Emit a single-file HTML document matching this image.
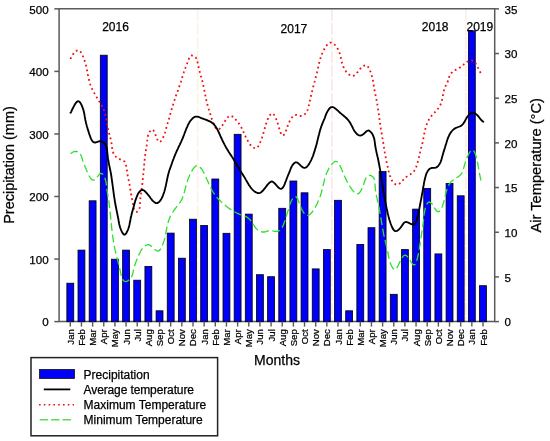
<!DOCTYPE html>
<html><head><meta charset="utf-8"><title>Precipitation and Air Temperature</title>
<style>html,body{margin:0;padding:0;background:#fff}svg{display:block}text{font-family:"Liberation Sans",Arial,sans-serif;fill:#000;stroke:#000;stroke-width:0.25px}</style></head><body>
<svg width="550" height="441" viewBox="0 0 550 441">
<rect width="550" height="441" fill="#fff"/>
<line x1="197.8" y1="8.85" x2="197.8" y2="321.6" stroke="#fae8cf" stroke-width="0.9" stroke-dasharray="12 2"/>
<line x1="331.9" y1="8.85" x2="331.9" y2="321.6" stroke="#f6d4d8" stroke-width="0.9" stroke-dasharray="12 2"/>
<line x1="465.9" y1="8.85" x2="465.9" y2="321.6" stroke="#f9dcdc" stroke-width="0.9" stroke-dasharray="12 2"/>
<path d="M59.1,8.85H494.7V321.6H59.1Z" fill="none" stroke="#5a5a5a" stroke-width="1.5"/>
<rect x="66.85" y="283.2" width="6.9" height="38.5" fill="#0000f8" stroke="#000" stroke-width="0.8"/>
<rect x="78.00" y="250.1" width="6.9" height="71.6" fill="#0000f8" stroke="#000" stroke-width="0.8"/>
<rect x="89.16" y="200.8" width="6.9" height="120.9" fill="#0000f8" stroke="#000" stroke-width="0.8"/>
<rect x="100.31" y="55.2" width="6.9" height="266.5" fill="#0000f8" stroke="#000" stroke-width="0.8"/>
<rect x="111.47" y="259.2" width="6.9" height="62.5" fill="#0000f8" stroke="#000" stroke-width="0.8"/>
<rect x="122.62" y="250.1" width="6.9" height="71.6" fill="#0000f8" stroke="#000" stroke-width="0.8"/>
<rect x="133.77" y="280.2" width="6.9" height="41.5" fill="#0000f8" stroke="#000" stroke-width="0.8"/>
<rect x="144.93" y="266.4" width="6.9" height="55.3" fill="#0000f8" stroke="#000" stroke-width="0.8"/>
<rect x="156.08" y="310.8" width="6.9" height="10.9" fill="#0000f8" stroke="#000" stroke-width="0.8"/>
<rect x="167.24" y="233.1" width="6.9" height="88.6" fill="#0000f8" stroke="#000" stroke-width="0.8"/>
<rect x="178.39" y="258.2" width="6.9" height="63.5" fill="#0000f8" stroke="#000" stroke-width="0.8"/>
<rect x="189.54" y="219.2" width="6.9" height="102.5" fill="#0000f8" stroke="#000" stroke-width="0.8"/>
<rect x="200.70" y="225.5" width="6.9" height="96.2" fill="#0000f8" stroke="#000" stroke-width="0.8"/>
<rect x="211.85" y="179.0" width="6.9" height="142.7" fill="#0000f8" stroke="#000" stroke-width="0.8"/>
<rect x="223.01" y="233.3" width="6.9" height="88.4" fill="#0000f8" stroke="#000" stroke-width="0.8"/>
<rect x="234.16" y="134.3" width="6.9" height="187.4" fill="#0000f8" stroke="#000" stroke-width="0.8"/>
<rect x="245.31" y="214.1" width="6.9" height="107.6" fill="#0000f8" stroke="#000" stroke-width="0.8"/>
<rect x="256.47" y="274.7" width="6.9" height="47.0" fill="#0000f8" stroke="#000" stroke-width="0.8"/>
<rect x="267.62" y="276.7" width="6.9" height="45.0" fill="#0000f8" stroke="#000" stroke-width="0.8"/>
<rect x="278.78" y="208.3" width="6.9" height="113.4" fill="#0000f8" stroke="#000" stroke-width="0.8"/>
<rect x="289.93" y="181.0" width="6.9" height="140.7" fill="#0000f8" stroke="#000" stroke-width="0.8"/>
<rect x="301.08" y="192.8" width="6.9" height="128.9" fill="#0000f8" stroke="#000" stroke-width="0.8"/>
<rect x="312.24" y="268.9" width="6.9" height="52.8" fill="#0000f8" stroke="#000" stroke-width="0.8"/>
<rect x="323.39" y="249.6" width="6.9" height="72.1" fill="#0000f8" stroke="#000" stroke-width="0.8"/>
<rect x="334.55" y="200.3" width="6.9" height="121.4" fill="#0000f8" stroke="#000" stroke-width="0.8"/>
<rect x="345.70" y="310.8" width="6.9" height="10.9" fill="#0000f8" stroke="#000" stroke-width="0.8"/>
<rect x="356.85" y="244.4" width="6.9" height="77.3" fill="#0000f8" stroke="#000" stroke-width="0.8"/>
<rect x="368.01" y="227.7" width="6.9" height="94.0" fill="#0000f8" stroke="#000" stroke-width="0.8"/>
<rect x="379.16" y="171.5" width="6.9" height="150.2" fill="#0000f8" stroke="#000" stroke-width="0.8"/>
<rect x="390.32" y="294.3" width="6.9" height="27.4" fill="#0000f8" stroke="#000" stroke-width="0.8"/>
<rect x="401.47" y="249.6" width="6.9" height="72.1" fill="#0000f8" stroke="#000" stroke-width="0.8"/>
<rect x="412.62" y="209.1" width="6.9" height="112.6" fill="#0000f8" stroke="#000" stroke-width="0.8"/>
<rect x="423.78" y="188.5" width="6.9" height="133.2" fill="#0000f8" stroke="#000" stroke-width="0.8"/>
<rect x="434.93" y="253.9" width="6.9" height="67.8" fill="#0000f8" stroke="#000" stroke-width="0.8"/>
<rect x="446.09" y="183.5" width="6.9" height="138.2" fill="#0000f8" stroke="#000" stroke-width="0.8"/>
<rect x="457.24" y="195.8" width="6.9" height="125.9" fill="#0000f8" stroke="#000" stroke-width="0.8"/>
<rect x="468.39" y="30.8" width="6.9" height="290.9" fill="#0000f8" stroke="#000" stroke-width="0.8"/>
<rect x="479.55" y="285.7" width="6.9" height="36.0" fill="#0000f8" stroke="#000" stroke-width="0.8"/>
<path d="M70.6,153.8L71.7,152.9L73.0,152.0L74.5,151.5L75.9,151.3L77.4,151.6L78.7,152.4L79.8,153.5L80.7,154.8L81.4,156.2L81.9,157.6L82.3,159.0L82.7,160.4L83.2,161.9L83.7,163.3L84.2,164.7L84.8,166.1L85.4,167.5L86.0,168.8L86.5,170.2L87.1,171.5L87.6,172.8L88.2,174.2L88.9,175.6L89.8,177.0L90.8,178.5L91.9,179.6L93.1,180.1L94.4,179.8L95.6,178.9L96.7,177.6L97.9,176.1L99.0,174.7L100.1,173.7L101.2,173.4L102.3,173.9L103.3,175.1L104.2,176.6L104.9,178.1L105.4,179.6L105.8,181.1L106.1,182.6L106.3,184.0L106.4,185.4L106.6,186.9L106.7,188.3L106.9,189.8L107.2,191.3L107.4,192.8L107.7,194.2L107.9,195.7L108.2,197.2L108.4,198.7L108.6,200.2L108.9,201.7L109.1,203.2L109.3,204.7L109.4,206.2L109.6,207.7L109.8,209.1L109.9,210.6L110.1,212.1L110.3,213.6L110.4,215.1L110.6,216.6L110.7,218.0L110.8,219.5L111.0,221.0L111.2,222.5L111.3,224.1L111.5,225.6L111.6,227.1L111.8,228.6L112.0,230.2L112.1,231.7L112.3,233.2L112.5,234.7L112.7,236.3L112.9,237.8L113.2,239.3L113.4,240.8L113.6,242.3L113.9,243.7L114.1,245.2L114.4,246.6L114.7,248.0L114.9,249.4L115.3,250.8L115.6,252.1L115.9,253.5L116.2,254.8L116.6,256.1L116.9,257.4L117.3,258.8L117.7,260.1L118.0,261.5L118.4,263.0L118.8,264.4L119.2,266.0L119.6,267.6L119.9,269.3L120.3,271.1L120.7,272.9L121.1,274.8L121.6,276.6L122.1,278.3L122.8,279.7L123.6,280.8L124.6,281.4L125.8,281.6L127.1,281.2L128.5,280.4L129.8,279.4L130.8,278.2L131.6,276.9L132.2,275.6L132.6,274.1L133.0,272.6L133.3,271.1L133.6,269.6L134.0,268.1L134.4,266.7L134.8,265.2L135.3,263.8L135.8,262.4L136.3,261.0L136.9,259.6L137.5,258.2L138.0,256.8L138.6,255.5L139.2,254.1L139.9,252.8L140.5,251.5L141.3,250.2L142.1,248.9L143.1,247.7L144.2,246.6L145.5,245.6L146.9,244.8L148.2,244.6L149.5,244.9L150.7,245.8L151.9,246.9L153.2,248.1L154.5,249.3L155.8,250.3L157.1,250.9L158.3,251.0L159.4,250.4L160.4,249.3L161.3,247.8L162.1,246.2L162.7,244.6L163.3,243.1L163.8,241.6L164.3,240.1L164.7,238.7L165.0,237.3L165.3,235.9L165.6,234.5L165.8,233.1L166.1,231.7L166.4,230.3L166.6,228.8L166.9,227.4L167.3,225.9L167.6,224.4L168.0,222.9L168.4,221.5L168.9,220.0L169.4,218.6L170.0,217.2L170.6,215.9L171.3,214.5L172.1,213.2L172.9,212.0L173.7,210.7L174.6,209.5L175.5,208.3L176.4,207.1L177.4,205.9L178.3,204.7L179.2,203.5L180.1,202.3L180.9,201.1L181.6,199.8L182.3,198.4L182.8,197.1L183.3,195.7L183.8,194.2L184.2,192.8L184.6,191.3L184.9,189.8L185.3,188.4L185.7,186.9L186.1,185.4L186.5,183.9L187.0,182.5L187.4,181.0L187.9,179.6L188.4,178.2L189.0,176.9L189.5,175.5L190.1,174.2L190.7,172.9L191.4,171.6L192.2,170.3L193.1,169.0L194.1,167.7L195.2,166.5L196.5,165.7L197.8,165.7L199.1,166.4L200.3,167.5L201.4,168.7L202.3,170.0L203.1,171.3L203.7,172.5L204.4,173.9L205.0,175.2L205.6,176.6L206.2,177.9L206.8,179.3L207.5,180.7L208.1,182.1L208.7,183.5L209.3,184.8L209.9,186.2L210.6,187.5L211.3,188.9L212.0,190.2L212.7,191.5L213.5,192.8L214.4,194.0L215.2,195.2L216.2,196.4L217.1,197.6L218.1,198.7L219.1,199.8L220.2,200.8L221.3,201.9L222.4,202.9L223.5,203.9L224.7,204.9L225.8,205.8L227.0,206.8L228.2,207.7L229.4,208.6L230.6,209.4L231.9,210.3L233.1,211.1L234.4,211.8L235.7,212.5L237.1,213.2L238.5,213.8L239.9,214.4L241.3,214.9L242.7,215.3L244.1,215.8L245.5,216.4L246.9,217.1L248.1,217.9L249.2,218.9L250.3,220.0L251.3,221.2L252.1,222.4L252.9,223.7L253.7,225.0L254.5,226.2L255.3,227.5L256.3,228.6L257.4,229.7L258.6,230.6L259.9,231.3L261.4,231.8L262.9,232.0L264.4,232.0L265.9,231.6L267.4,231.1L268.8,230.6L270.2,230.4L271.7,230.6L273.1,231.0L274.6,231.4L276.1,231.5L277.6,231.3L279.0,230.8L280.2,229.9L281.2,228.8L282.1,227.5L282.8,226.1L283.5,224.7L284.0,223.3L284.5,221.9L285.0,220.5L285.4,219.1L285.9,217.6L286.3,216.2L286.8,214.7L287.2,213.3L287.7,211.8L288.1,210.4L288.5,209.0L288.9,207.6L289.3,206.2L289.7,204.8L290.2,203.4L290.8,202.0L291.5,200.5L292.4,199.0L293.3,197.7L294.3,196.8L295.3,196.5L296.1,196.8L296.9,197.7L297.6,198.9L298.3,200.6L299.0,202.4L299.8,204.4L300.5,206.4L301.3,208.3L302.1,210.0L303.0,211.6L303.9,213.0L304.9,214.1L305.9,214.9L306.9,215.3L307.9,215.4L309.0,215.0L310.1,214.3L311.1,213.2L312.2,212.0L313.2,210.6L314.2,209.1L315.1,207.5L316.0,205.9L316.8,204.4L317.5,202.8L318.2,201.4L318.8,199.9L319.4,198.5L319.9,197.0L320.4,195.7L320.8,194.3L321.3,192.9L321.6,191.5L322.0,190.2L322.4,188.8L322.7,187.5L323.0,186.2L323.3,184.8L323.6,183.4L324.0,182.1L324.3,180.7L324.6,179.3L325.0,177.9L325.5,176.5L325.9,175.1L326.4,173.7L327.0,172.3L327.7,170.9L328.4,169.5L329.2,168.0L330.1,166.6L331.1,165.2L332.2,163.8L333.3,162.6L334.4,161.7L335.5,161.3L336.6,161.5L337.6,162.1L338.5,163.2L339.4,164.6L340.3,166.2L341.1,167.9L341.8,169.7L342.5,171.3L343.1,172.9L343.7,174.3L344.3,175.7L344.9,177.0L345.5,178.3L346.1,179.6L346.7,180.8L347.3,182.0L348.0,183.3L348.8,184.5L349.5,185.8L350.4,187.2L351.4,188.6L352.4,190.1L353.4,191.4L354.5,192.6L355.6,193.5L356.7,194.0L357.8,193.9L358.8,193.4L359.7,192.5L360.6,191.2L361.5,189.7L362.3,188.0L363.0,186.1L363.7,184.2L364.3,182.3L364.9,180.5L365.6,178.8L366.3,177.4L367.2,176.3L368.1,175.6L369.3,175.3L370.7,175.5L372.1,176.2L373.2,177.2L374.0,178.4L374.5,179.7L374.8,181.3L375.0,182.9L375.0,184.5L375.1,186.1L375.2,187.7L375.4,189.3L375.6,190.8L375.8,192.3L376.1,193.8L376.3,195.3L376.6,196.7L377.0,198.1L377.3,199.6L377.6,201.0L377.9,202.4L378.3,203.8L378.6,205.3L378.9,206.7L379.2,208.2L379.4,209.7L379.7,211.2L380.0,212.6L380.2,214.1L380.5,215.6L380.7,217.1L381.0,218.6L381.2,220.1L381.4,221.6L381.7,223.0L381.9,224.5L382.2,226.0L382.4,227.5L382.7,228.9L383.0,230.4L383.3,231.9L383.5,233.4L383.8,234.8L384.2,236.3L384.5,237.8L384.8,239.3L385.2,240.7L385.5,242.2L385.9,243.7L386.2,245.2L386.5,246.6L386.9,248.1L387.2,249.6L387.6,251.0L387.9,252.5L388.2,253.9L388.4,255.3L388.7,256.7L389.0,258.2L389.3,259.6L389.6,261.0L390.1,262.4L390.6,263.9L391.2,265.3L392.0,266.8L392.9,268.3L393.9,269.3L394.8,269.6L395.8,269.2L396.7,268.1L397.6,266.6L398.5,264.8L399.4,262.9L400.3,261.0L401.3,259.2L402.2,257.6L403.1,256.3L404.1,255.5L405.0,255.1L405.9,255.3L406.9,256.0L407.8,257.1L408.8,258.6L409.8,260.1L410.8,261.7L411.8,263.2L412.8,264.3L413.8,264.9L414.6,264.8L415.4,264.1L416.0,262.8L416.6,261.2L417.1,259.4L417.6,257.4L418.0,255.5L418.4,253.6L418.7,251.9L419.0,250.2L419.3,248.7L419.5,247.2L419.8,245.8L420.0,244.4L420.2,243.1L420.4,241.7L420.6,240.4L420.8,239.1L421.0,237.7L421.2,236.3L421.4,234.9L421.6,233.4L421.9,231.9L422.1,230.4L422.3,228.9L422.6,227.4L422.8,225.8L423.0,224.3L423.2,222.8L423.4,221.3L423.5,219.9L423.6,218.5L423.8,217.1L423.9,215.7L424.1,214.3L424.3,212.9L424.6,211.4L424.9,209.9L425.3,208.3L425.9,206.7L426.5,205.0L427.3,203.4L428.3,202.3L429.5,202.0L430.7,202.7L432.0,203.8L432.9,205.1L433.6,206.3L434.3,207.6L435.1,208.9L436.1,210.3L437.3,211.4L438.5,211.8L439.6,211.2L440.6,209.9L441.4,208.2L442.1,206.7L442.7,205.2L443.2,203.8L443.6,202.4L444.0,201.0L444.3,199.7L444.7,198.3L445.0,196.9L445.3,195.4L445.7,193.9L446.0,192.5L446.4,191.0L446.9,189.5L447.4,188.1L448.0,186.7L448.6,185.3L449.4,184.1L450.2,182.9L451.2,181.7L452.3,180.7L453.5,179.7L454.8,178.9L456.1,178.1L457.4,177.3L458.6,176.4L459.8,175.5L460.8,174.5L461.7,173.3L462.4,171.9L462.9,170.5L463.4,169.1L463.8,167.6L464.2,166.2L464.6,164.8L465.0,163.4L465.4,162.0L465.9,160.6L466.4,159.2L467.0,157.6L467.8,156.0L468.6,154.3L469.4,152.8L470.3,151.5L471.2,150.6L472.0,150.1L472.8,150.1L473.6,150.7L474.3,151.7L474.9,153.1L475.6,154.8L476.2,156.8L476.7,159.0L477.3,161.4L477.8,163.9L478.2,166.4L478.7,168.9L479.1,171.3L479.5,173.6L480.0,175.8L480.3,177.6L480.7,179.2L481.1,180.5L481.5,181.3L481.9,181.6L482.3,181.4L482.6,180.7L482.8,180.2" fill="none" stroke="#2ee02e" stroke-width="1.3" stroke-dasharray="8 3.5"/>
<path d="M70.5,59.0L70.8,58.2L71.4,56.9L72.2,55.5L73.3,53.9L74.4,52.5L75.7,51.3L76.9,50.5L78.1,50.2L79.3,50.6L80.3,51.5L81.2,52.8L82.1,54.4L82.9,56.1L83.6,57.8L84.2,59.4L84.7,61.0L85.2,62.6L85.7,64.2L86.1,65.7L86.4,67.2L86.7,68.7L87.0,70.1L87.3,71.6L87.6,73.0L87.8,74.4L88.1,75.8L88.4,77.1L88.7,78.5L89.0,79.8L89.3,81.2L89.7,82.5L90.1,83.8L90.5,85.1L91.1,86.5L91.6,87.8L92.2,89.1L92.9,90.4L93.6,91.8L94.3,93.1L95.1,94.4L95.9,95.7L96.6,97.1L97.4,98.4L98.2,99.7L99.0,101.0L99.8,102.3L100.6,103.6L101.4,104.9L102.1,106.2L102.8,107.6L103.4,108.9L104.0,110.3L104.5,111.7L104.9,113.1L105.3,114.5L105.6,116.0L105.9,117.5L106.2,118.9L106.5,120.4L106.7,121.9L107.0,123.4L107.2,124.9L107.5,126.4L107.7,127.9L108.1,129.3L108.4,130.8L108.8,132.2L109.2,133.7L109.6,135.1L110.0,136.5L110.4,138.0L110.8,139.4L111.1,140.9L111.4,142.4L111.6,144.0L111.8,145.5L112.0,147.1L112.2,148.6L112.5,150.1L112.9,151.6L113.3,153.0L113.9,154.3L114.7,155.5L115.7,156.6L116.8,157.6L118.1,158.5L119.5,159.1L120.9,159.7L122.4,160.2L123.7,160.9L124.7,161.9L125.4,163.2L125.9,164.7L126.3,166.3L126.5,167.8L126.8,169.3L127.0,170.8L127.2,172.2L127.4,173.7L127.6,175.1L127.9,176.6L128.2,178.1L128.5,179.5L128.9,181.0L129.2,182.5L129.5,183.9L129.7,185.4L130.0,186.9L130.2,188.4L130.4,189.9L130.6,191.4L130.8,192.9L131.1,194.3L131.4,195.8L131.7,197.3L132.0,198.8L132.3,200.2L132.6,201.7L132.9,203.2L133.1,204.6L133.2,206.1L133.5,207.6L133.9,209.0L134.7,210.4L135.7,211.7L137.0,211.9L138.2,210.9L139.1,209.5L139.6,208.0L139.9,206.6L140.0,205.1L140.0,203.6L140.0,202.1L140.1,200.6L140.3,199.1L140.4,197.6L140.6,196.1L140.9,194.6L141.1,193.1L141.3,191.6L141.5,190.2L141.7,188.7L141.9,187.2L142.1,185.7L142.3,184.2L142.4,182.7L142.6,181.2L142.7,179.7L142.9,178.2L143.0,176.7L143.2,175.3L143.3,173.8L143.5,172.3L143.6,170.8L143.8,169.3L143.9,167.8L144.1,166.3L144.2,164.8L144.4,163.3L144.5,161.8L144.6,160.3L144.8,158.8L144.9,157.4L145.1,155.9L145.3,154.4L145.5,152.9L145.7,151.4L145.9,149.9L146.2,148.4L146.5,146.9L146.7,145.4L146.9,144.0L147.0,142.5L147.2,141.1L147.3,139.7L147.4,138.2L147.7,136.7L148.1,135.2L148.8,133.6L149.6,132.0L150.6,130.6L151.6,129.8L152.5,129.6L153.4,130.3L154.2,131.6L154.9,133.3L155.6,135.2L156.3,137.2L157.1,139.0L157.8,140.6L158.6,141.6L159.5,142.0L160.4,141.6L161.4,140.5L162.3,139.0L163.1,137.4L163.8,135.9L164.4,134.4L164.9,133.0L165.3,131.6L165.6,130.2L166.0,128.9L166.4,127.5L166.8,126.1L167.2,124.7L167.6,123.2L168.1,121.8L168.6,120.3L169.0,118.9L169.4,117.4L169.8,116.0L170.2,114.5L170.6,113.1L171.0,111.6L171.4,110.2L171.8,108.7L172.2,107.3L172.7,105.9L173.1,104.4L173.6,103.0L174.0,101.6L174.5,100.1L174.9,98.7L175.4,97.3L175.9,95.9L176.4,94.5L177.0,93.1L177.5,91.7L178.0,90.3L178.5,88.9L179.0,87.5L179.5,86.0L180.0,84.6L180.5,83.2L181.0,81.7L181.4,80.3L181.9,78.8L182.3,77.3L182.7,75.9L183.1,74.4L183.6,73.0L184.0,71.6L184.5,70.2L185.0,68.9L185.5,67.6L186.0,66.2L186.5,64.9L187.1,63.5L187.6,62.1L188.2,60.5L188.8,58.9L189.5,57.3L190.3,56.1L191.5,55.5L192.9,55.6L194.4,56.3L195.6,57.4L196.4,58.6L196.9,60.0L197.3,61.5L197.7,63.0L198.0,64.5L198.3,65.9L198.7,67.4L199.0,68.8L199.3,70.3L199.7,71.7L200.1,73.2L200.5,74.6L200.9,76.1L201.4,77.5L201.8,79.0L202.2,80.4L202.5,81.9L202.9,83.3L203.2,84.8L203.5,86.2L203.8,87.7L204.1,89.2L204.4,90.7L204.7,92.1L205.0,93.6L205.3,95.1L205.5,96.6L205.8,98.0L206.2,99.5L206.5,100.9L206.9,102.4L207.2,103.8L207.6,105.3L208.0,106.7L208.5,108.2L208.9,109.7L209.4,111.1L209.8,112.5L210.3,114.0L210.7,115.3L211.1,116.7L211.5,118.0L212.0,119.4L212.5,120.7L213.0,122.2L213.7,123.7L214.4,125.4L215.2,127.0L216.1,128.4L217.2,129.3L218.3,129.5L219.5,128.9L220.6,127.8L221.7,126.4L222.6,125.1L223.4,123.8L224.1,122.6L224.9,121.3L225.7,120.0L226.7,118.6L227.7,117.3L228.9,116.3L230.1,115.8L231.4,116.0L232.7,116.7L233.9,117.8L235.1,119.0L236.2,120.2L237.2,121.4L238.2,122.6L239.0,123.7L239.8,124.9L240.6,126.2L241.3,127.4L242.0,128.8L242.6,130.1L243.3,131.5L243.9,132.9L244.5,134.3L245.1,135.6L245.8,137.0L246.5,138.3L247.2,139.7L247.9,141.0L248.6,142.2L249.4,143.5L250.2,144.7L251.2,145.8L252.4,146.9L253.8,147.8L255.2,148.3L256.5,148.1L257.6,147.2L258.5,145.9L259.3,144.3L260.0,142.8L260.6,141.3L261.1,139.9L261.6,138.5L262.1,137.2L262.5,135.8L263.0,134.4L263.4,133.0L263.8,131.5L264.3,130.1L264.7,128.6L265.1,127.2L265.5,125.7L265.9,124.4L266.3,123.0L266.7,121.7L267.3,120.3L267.9,118.9L268.6,117.3L269.5,115.8L270.5,114.4L271.6,113.5L272.6,113.5L273.6,114.3L274.5,115.7L275.4,117.3L276.1,118.9L276.7,120.4L277.2,121.7L277.6,123.0L278.0,124.3L278.4,125.8L278.9,127.4L279.4,129.2L280.0,131.1L280.7,132.9L281.4,134.4L282.1,135.3L282.9,135.6L283.7,135.1L284.5,133.9L285.3,132.3L286.0,130.6L286.6,129.0L287.1,127.5L287.6,126.1L288.1,124.8L288.6,123.5L289.2,122.2L289.8,120.8L290.4,119.5L291.3,118.2L292.3,117.0L293.5,115.9L294.8,115.1L296.2,114.8L297.6,115.1L299.0,115.7L300.5,116.0L302.0,115.8L303.4,115.2L304.7,114.3L305.8,113.2L306.6,112.0L307.3,110.7L307.9,109.3L308.3,107.9L308.7,106.4L309.0,104.9L309.4,103.5L309.7,102.0L310.0,100.5L310.3,99.1L310.6,97.6L311.0,96.1L311.3,94.7L311.7,93.2L312.0,91.7L312.4,90.2L312.8,88.8L313.1,87.3L313.5,85.8L313.9,84.3L314.3,82.9L314.7,81.4L315.0,79.9L315.4,78.5L315.8,77.0L316.2,75.6L316.5,74.1L316.9,72.7L317.2,71.3L317.6,69.9L317.9,68.5L318.2,67.1L318.6,65.7L318.9,64.3L319.2,62.9L319.6,61.5L319.9,60.1L320.3,58.7L320.8,57.3L321.3,55.9L321.8,54.5L322.4,53.0L323.0,51.6L323.8,50.1L324.6,48.5L325.5,47.0L326.5,45.6L327.6,44.3L328.7,43.3L329.8,42.7L331.1,42.6L332.3,43.0L333.6,43.7L334.8,44.8L335.9,46.1L336.9,47.5L337.8,48.9L338.5,50.4L339.2,51.8L339.7,53.2L340.1,54.6L340.5,56.1L340.8,57.5L341.1,58.9L341.4,60.3L341.8,61.8L342.1,63.2L342.5,64.6L343.0,66.0L343.6,67.3L344.2,68.7L345.0,70.0L345.9,71.3L346.9,72.6L348.0,73.8L349.3,74.8L350.6,75.6L351.9,76.0L353.1,75.9L354.2,75.4L355.4,74.5L356.5,73.4L357.6,72.1L358.7,70.6L359.9,69.2L361.2,67.8L362.4,66.6L363.7,65.8L364.9,65.3L366.0,65.2L367.1,65.8L368.0,66.8L368.9,68.1L369.6,69.6L370.3,71.3L370.9,73.0L371.4,74.7L371.9,76.2L372.3,77.8L372.7,79.3L373.0,80.7L373.2,82.2L373.5,83.6L373.7,85.0L373.9,86.4L374.2,87.7L374.4,89.1L374.6,90.6L374.9,92.0L375.2,93.5L375.5,94.9L375.8,96.4L376.1,97.9L376.4,99.4L376.7,100.9L376.9,102.4L377.2,103.8L377.5,105.3L377.7,106.8L377.9,108.3L378.1,109.8L378.3,111.2L378.6,112.7L378.8,114.2L379.0,115.7L379.2,117.2L379.4,118.7L379.6,120.2L379.8,121.6L380.0,123.1L380.2,124.6L380.5,126.1L380.7,127.6L380.9,129.0L381.2,130.5L381.4,132.0L381.7,133.5L381.9,135.0L382.2,136.4L382.4,137.9L382.7,139.4L382.9,140.9L383.2,142.4L383.4,143.8L383.6,145.3L383.9,146.8L384.1,148.3L384.3,149.8L384.6,151.3L384.8,152.7L385.1,154.2L385.4,155.7L385.7,157.2L385.9,158.6L386.2,160.1L386.5,161.6L386.8,163.0L387.2,164.5L387.5,166.0L387.8,167.4L388.1,168.9L388.5,170.4L388.8,171.8L389.2,173.3L389.7,174.7L390.1,176.1L390.6,177.5L391.2,178.9L391.8,180.3L392.5,181.6L393.5,182.8L394.7,183.8L396.0,184.5L397.4,184.6L398.7,184.1L400.0,183.3L401.3,182.2L402.4,180.9L403.5,179.7L404.6,178.6L405.6,177.5L406.7,176.6L407.9,175.7L409.2,175.0L410.5,174.2L411.7,173.4L412.9,172.4L413.9,171.3L414.8,170.1L415.5,168.7L416.1,167.4L416.6,165.9L417.0,164.5L417.4,163.0L417.8,161.6L418.2,160.1L418.6,158.7L419.0,157.2L419.3,155.8L419.7,154.3L420.0,152.9L420.3,151.4L420.7,149.9L421.0,148.5L421.4,147.0L421.7,145.6L422.1,144.1L422.5,142.7L422.8,141.2L423.1,139.7L423.4,138.3L423.7,136.8L424.0,135.3L424.3,133.8L424.5,132.4L424.8,130.9L425.2,129.4L425.6,128.0L426.0,126.6L426.5,125.1L427.0,123.7L427.6,122.3L428.2,121.0L428.9,119.6L429.6,118.3L430.5,117.1L431.4,115.9L432.4,114.8L433.4,113.7L434.5,112.6L435.5,111.5L436.6,110.5L437.6,109.3L438.5,108.1L439.3,106.9L440.1,105.6L440.7,104.2L441.2,102.8L441.6,101.4L442.0,99.9L442.4,98.5L442.7,97.0L442.9,95.5L443.2,94.1L443.5,92.6L443.8,91.1L444.2,89.6L444.7,88.2L445.2,86.8L445.9,85.5L446.6,84.2L447.2,82.8L447.8,81.4L448.2,80.0L448.7,78.5L449.1,77.1L449.7,75.7L450.4,74.4L451.3,73.2L452.4,72.1L453.5,71.2L454.8,70.3L456.1,69.6L457.4,68.9L458.8,68.2L460.0,67.4L461.3,66.5L462.4,65.6L463.6,64.6L464.7,63.6L465.9,62.7L467.1,61.8L468.5,61.1L470.0,60.7L471.5,60.5L473.0,60.8L474.2,61.6L475.2,62.7L476.0,64.0L476.8,65.4L477.5,66.8L478.2,68.1L478.9,69.4L479.6,70.7L480.2,72.0L480.9,73.4L481.5,74.7L481.8,75.5" fill="none" stroke="#f01010" stroke-width="1.8" stroke-dasharray="1.8 3.05"/>
<path d="M70.5,112.8L70.8,112.6L71.3,111.6L71.9,110.2L72.7,108.5L73.7,106.6L74.7,104.7L75.7,103.1L76.8,101.9L77.9,101.2L78.9,101.4L79.9,102.2L80.8,103.6L81.7,105.2L82.3,106.9L82.9,108.5L83.4,110.0L83.8,111.5L84.1,112.9L84.4,114.3L84.6,115.7L84.8,117.0L85.1,118.4L85.3,119.7L85.6,121.0L85.9,122.4L86.2,123.7L86.6,125.1L86.9,126.5L87.4,127.9L87.8,129.4L88.3,130.9L88.8,132.5L89.3,134.1L89.9,135.7L90.5,137.4L91.2,139.1L92.0,140.5L92.9,141.7L94.0,142.4L95.2,142.5L96.6,142.1L98.1,141.6L99.7,141.2L101.2,141.3L102.6,141.9L103.8,142.8L104.9,144.0L105.7,145.2L106.2,146.6L106.7,148.0L107.0,149.5L107.2,151.1L107.3,152.6L107.5,154.2L107.6,155.7L107.8,157.2L108.0,158.7L108.3,160.2L108.6,161.7L108.8,163.2L109.1,164.6L109.4,166.1L109.7,167.5L110.0,169.0L110.3,170.5L110.6,171.9L110.9,173.4L111.1,174.8L111.4,176.3L111.6,177.8L111.8,179.3L112.0,180.8L112.2,182.3L112.4,183.7L112.6,185.2L112.8,186.7L113.0,188.2L113.2,189.7L113.4,191.2L113.6,192.7L113.8,194.2L114.0,195.7L114.2,197.1L114.5,198.6L114.7,200.1L114.9,201.6L115.2,203.0L115.4,204.5L115.7,206.0L116.0,207.5L116.3,209.0L116.6,210.4L116.9,211.9L117.2,213.4L117.5,214.9L117.8,216.4L118.1,217.9L118.4,219.3L118.6,220.7L118.9,222.1L119.1,223.4L119.4,224.8L119.8,226.2L120.2,227.7L120.8,229.3L121.5,230.9L122.3,232.6L123.3,234.0L124.2,234.7L125.2,234.4L126.2,233.3L127.0,231.8L127.8,230.1L128.4,228.5L128.9,226.9L129.3,225.5L129.6,224.1L129.8,222.7L130.1,221.3L130.4,220.0L130.6,218.6L130.9,217.2L131.3,215.7L131.6,214.3L132.0,212.8L132.4,211.3L132.8,209.8L133.2,208.4L133.6,206.9L134.0,205.4L134.4,203.9L134.8,202.5L135.2,201.0L135.7,199.6L136.2,198.2L136.7,196.8L137.3,195.5L137.9,194.1L138.7,192.8L139.6,191.6L140.7,190.5L141.9,189.8L143.3,190.1L144.6,191.0L145.8,192.2L146.9,193.4L147.9,194.6L148.8,195.7L149.7,196.8L150.5,198.0L151.4,199.2L152.3,200.3L153.4,201.4L154.6,202.4L156.0,203.1L157.4,203.1L158.7,202.3L159.8,201.1L160.8,199.9L161.5,198.6L162.2,197.3L162.8,195.9L163.3,194.5L163.8,193.1L164.3,191.7L164.7,190.3L165.1,188.8L165.4,187.3L165.8,185.9L166.1,184.4L166.4,182.9L166.7,181.5L167.0,180.0L167.3,178.5L167.6,177.1L168.0,175.6L168.3,174.1L168.7,172.7L169.1,171.3L169.6,169.8L170.1,168.4L170.6,167.0L171.1,165.6L171.6,164.2L172.1,162.8L172.6,161.3L173.1,159.9L173.7,158.5L174.2,157.1L174.8,155.7L175.3,154.4L175.9,153.0L176.5,151.6L177.1,150.2L177.8,148.9L178.4,147.5L179.0,146.2L179.7,144.8L180.3,143.5L181.0,142.1L181.6,140.7L182.2,139.3L182.8,138.0L183.3,136.6L183.9,135.1L184.4,133.7L184.9,132.3L185.5,130.9L186.0,129.5L186.6,128.1L187.2,126.8L187.8,125.4L188.4,124.1L189.2,122.8L189.9,121.5L190.8,120.3L191.9,119.1L193.0,118.0L194.3,117.1L195.6,116.6L197.0,116.6L198.5,116.9L200.0,117.5L201.4,118.1L202.8,118.6L204.2,119.2L205.6,119.7L207.0,120.2L208.4,120.8L209.8,121.4L211.1,122.1L212.3,123.0L213.5,123.9L214.5,125.1L215.4,126.3L216.2,127.5L217.0,128.8L217.7,130.1L218.4,131.5L219.0,132.8L219.6,134.2L220.2,135.6L220.8,137.0L221.5,138.3L222.1,139.7L222.7,141.0L223.4,142.4L224.1,143.7L224.8,145.1L225.5,146.4L226.2,147.7L227.0,149.0L227.8,150.3L228.5,151.5L229.3,152.8L230.2,154.1L231.0,155.3L231.8,156.6L232.6,157.8L233.4,159.1L234.2,160.4L235.0,161.6L235.8,162.9L236.5,164.2L237.3,165.5L238.0,166.8L238.8,168.1L239.5,169.4L240.3,170.7L241.1,172.0L241.9,173.3L242.7,174.5L243.5,175.8L244.3,177.1L245.1,178.3L245.8,179.6L246.6,181.0L247.3,182.3L248.1,183.6L248.9,184.9L249.7,186.1L250.5,187.3L251.5,188.5L252.5,189.6L253.5,190.6L254.7,191.6L256.1,192.4L257.5,193.0L258.9,193.2L260.3,192.8L261.5,191.9L262.7,190.8L263.7,189.6L264.7,188.4L265.6,187.3L266.5,186.1L267.4,184.9L268.5,183.6L269.7,182.5L270.9,181.7L272.1,181.5L273.3,182.1L274.5,183.2L275.7,184.5L276.9,185.9L278.1,187.2L279.3,188.2L280.4,188.8L281.4,188.8L282.3,188.2L283.2,187.2L283.9,185.8L284.7,184.1L285.3,182.3L286.0,180.6L286.6,179.0L287.2,177.5L287.8,176.0L288.3,174.7L288.9,173.4L289.4,172.1L289.9,170.8L290.4,169.5L290.9,168.1L291.6,166.8L292.3,165.4L293.3,164.1L294.4,163.0L295.7,162.3L297.0,162.4L298.2,163.2L299.5,164.4L300.7,165.6L302.0,166.8L303.3,167.6L304.6,167.9L305.8,167.6L307.0,166.7L308.0,165.5L309.0,164.1L309.8,162.6L310.6,161.2L311.3,159.8L311.9,158.4L312.5,157.1L313.0,155.8L313.5,154.4L313.9,153.0L314.4,151.7L314.8,150.2L315.2,148.8L315.7,147.4L316.1,145.9L316.5,144.4L316.9,143.0L317.2,141.5L317.6,140.0L318.0,138.6L318.3,137.1L318.7,135.6L319.1,134.2L319.4,132.7L319.8,131.3L320.2,129.8L320.7,128.4L321.1,127.0L321.6,125.6L322.2,124.2L322.7,122.8L323.3,121.4L323.9,120.0L324.5,118.6L325.0,117.3L325.5,115.9L326.0,114.5L326.6,113.2L327.3,111.8L328.1,110.4L329.0,109.0L330.1,107.8L331.3,107.1L332.6,107.0L333.9,107.5L335.2,108.4L336.5,109.5L337.8,110.6L338.9,111.7L340.0,112.7L341.1,113.6L342.2,114.6L343.4,115.5L344.5,116.5L345.7,117.5L346.7,118.5L347.8,119.6L348.7,120.8L349.6,122.0L350.4,123.3L351.1,124.6L351.8,125.9L352.5,127.2L353.1,128.6L353.8,129.9L354.6,131.2L355.5,132.4L356.6,133.7L357.8,134.7L359.1,135.4L360.4,135.6L361.8,135.2L363.2,134.3L364.5,133.2L365.7,132.0L366.9,131.0L368.1,130.5L369.3,130.7L370.4,131.6L371.5,132.8L372.5,134.3L373.2,135.8L373.8,137.3L374.2,138.8L374.5,140.3L374.7,141.7L374.9,143.1L375.1,144.6L375.3,146.0L375.5,147.5L375.8,148.9L376.1,150.4L376.4,151.9L376.7,153.3L377.1,154.8L377.4,156.3L377.8,157.8L378.1,159.3L378.4,160.7L378.7,162.2L379.0,163.7L379.3,165.2L379.5,166.6L379.8,168.1L380.1,169.6L380.3,171.0L380.5,172.5L380.8,174.0L381.0,175.5L381.2,176.9L381.4,178.4L381.6,179.9L381.9,181.4L382.1,182.8L382.3,184.3L382.5,185.8L382.7,187.3L383.0,188.8L383.2,190.3L383.5,191.8L383.7,193.3L384.0,194.8L384.3,196.3L384.6,197.8L384.8,199.3L385.1,200.8L385.4,202.3L385.7,203.8L386.0,205.2L386.3,206.7L386.6,208.1L386.9,209.5L387.2,210.9L387.5,212.3L387.8,213.7L388.2,215.1L388.5,216.4L388.9,217.8L389.2,219.2L389.7,220.7L390.2,222.2L390.7,223.7L391.3,225.3L392.0,227.0L392.8,228.6L393.7,229.9L394.6,230.9L395.7,231.2L397.0,230.9L398.2,230.1L399.5,228.9L400.7,227.5L401.7,226.0L402.7,224.6L403.6,223.3L404.6,222.4L405.7,222.0L407.0,222.2L408.3,222.7L409.8,223.4L411.4,224.1L412.9,224.5L414.2,224.4L415.2,223.5L416.0,222.2L416.6,220.5L417.1,218.8L417.5,217.2L417.9,215.7L418.2,214.1L418.5,212.7L418.8,211.3L419.1,209.9L419.4,208.5L419.6,207.1L419.9,205.7L420.2,204.3L420.4,202.9L420.7,201.4L421.0,200.0L421.3,198.5L421.6,197.0L421.8,195.5L422.1,194.0L422.4,192.5L422.7,191.0L422.9,189.5L423.2,188.0L423.4,186.5L423.7,185.0L423.9,183.6L424.2,182.1L424.5,180.6L424.8,179.2L425.2,177.7L425.6,176.3L426.0,174.8L426.5,173.4L427.2,172.1L427.9,170.8L428.9,169.5L430.1,168.5L431.4,168.0L432.9,167.9L434.4,167.9L435.9,167.6L437.2,166.9L438.3,165.8L439.2,164.5L440.0,163.2L440.7,161.8L441.2,160.4L441.6,159.0L442.0,157.5L442.4,156.1L442.8,154.7L443.2,153.2L443.6,151.8L444.1,150.4L444.5,148.9L445.0,147.5L445.4,146.1L445.8,144.6L446.3,143.2L446.7,141.7L447.2,140.3L447.7,138.8L448.2,137.4L448.8,136.1L449.4,134.7L450.2,133.4L451.0,132.1L452.0,131.0L453.0,129.9L454.2,128.9L455.5,128.1L456.9,127.5L458.3,127.0L459.7,126.5L461.0,125.9L462.1,125.0L463.1,123.8L464.0,122.6L464.8,121.2L465.5,119.9L466.3,118.5L467.0,117.2L467.9,116.0L468.9,114.8L470.0,113.8L471.3,112.9L472.7,112.6L474.2,112.9L475.5,113.6L476.7,114.6L477.8,115.7L478.7,116.8L479.6,118.0L480.5,119.2L481.5,120.3L482.6,121.3L483.3,121.8" fill="none" stroke="#000" stroke-width="1.85" stroke-linecap="round" stroke-linejoin="round"/>
<line x1="54.300000000000004" y1="321.60" x2="59.1" y2="321.60" stroke="#5a5a5a" stroke-width="1.5"/>
<text x="48.7" y="326.4" font-size="11.6" text-anchor="end">0</text>
<line x1="54.300000000000004" y1="259.05" x2="59.1" y2="259.05" stroke="#5a5a5a" stroke-width="1.5"/>
<text x="48.7" y="263.9" font-size="11.6" text-anchor="end">100</text>
<line x1="54.300000000000004" y1="196.50" x2="59.1" y2="196.50" stroke="#5a5a5a" stroke-width="1.5"/>
<text x="48.7" y="201.3" font-size="11.6" text-anchor="end">200</text>
<line x1="54.300000000000004" y1="133.95" x2="59.1" y2="133.95" stroke="#5a5a5a" stroke-width="1.5"/>
<text x="48.7" y="138.8" font-size="11.6" text-anchor="end">300</text>
<line x1="54.300000000000004" y1="71.40" x2="59.1" y2="71.40" stroke="#5a5a5a" stroke-width="1.5"/>
<text x="48.7" y="76.2" font-size="11.6" text-anchor="end">400</text>
<line x1="54.300000000000004" y1="8.85" x2="59.1" y2="8.85" stroke="#5a5a5a" stroke-width="1.5"/>
<text x="48.7" y="13.7" font-size="11.6" text-anchor="end">500</text>
<line x1="494.7" y1="321.60" x2="498.9" y2="321.60" stroke="#5a5a5a" stroke-width="1.5"/>
<text x="504.6" y="326.4" font-size="11.6">0</text>
<line x1="494.7" y1="276.92" x2="498.9" y2="276.92" stroke="#5a5a5a" stroke-width="1.5"/>
<text x="504.6" y="281.7" font-size="11.6">5</text>
<line x1="494.7" y1="232.24" x2="498.9" y2="232.24" stroke="#5a5a5a" stroke-width="1.5"/>
<text x="504.6" y="237.0" font-size="11.6">10</text>
<line x1="494.7" y1="187.56" x2="498.9" y2="187.56" stroke="#5a5a5a" stroke-width="1.5"/>
<text x="504.6" y="192.4" font-size="11.6">15</text>
<line x1="494.7" y1="142.89" x2="498.9" y2="142.89" stroke="#5a5a5a" stroke-width="1.5"/>
<text x="504.6" y="147.7" font-size="11.6">20</text>
<line x1="494.7" y1="98.21" x2="498.9" y2="98.21" stroke="#5a5a5a" stroke-width="1.5"/>
<text x="504.6" y="103.0" font-size="11.6">25</text>
<line x1="494.7" y1="53.53" x2="498.9" y2="53.53" stroke="#5a5a5a" stroke-width="1.5"/>
<text x="504.6" y="58.3" font-size="11.6">30</text>
<line x1="494.7" y1="8.85" x2="498.9" y2="8.85" stroke="#5a5a5a" stroke-width="1.5"/>
<text x="504.6" y="13.7" font-size="11.6">35</text>
<line x1="70.30" y1="321.6" x2="70.30" y2="326.6" stroke="#5a5a5a" stroke-width="1.4"/>
<text transform="translate(73.80,329.2) rotate(-90)" font-size="9.6" text-anchor="end">Jan</text>
<line x1="81.45" y1="321.6" x2="81.45" y2="326.6" stroke="#5a5a5a" stroke-width="1.4"/>
<text transform="translate(84.95,329.2) rotate(-90)" font-size="9.6" text-anchor="end">Feb</text>
<line x1="92.61" y1="321.6" x2="92.61" y2="326.6" stroke="#5a5a5a" stroke-width="1.4"/>
<text transform="translate(96.11,329.2) rotate(-90)" font-size="9.6" text-anchor="end">Mar</text>
<line x1="103.76" y1="321.6" x2="103.76" y2="326.6" stroke="#5a5a5a" stroke-width="1.4"/>
<text transform="translate(107.26,329.2) rotate(-90)" font-size="9.6" text-anchor="end">Apr</text>
<line x1="114.92" y1="321.6" x2="114.92" y2="326.6" stroke="#5a5a5a" stroke-width="1.4"/>
<text transform="translate(118.42,329.2) rotate(-90)" font-size="9.6" text-anchor="end">May</text>
<line x1="126.07" y1="321.6" x2="126.07" y2="326.6" stroke="#5a5a5a" stroke-width="1.4"/>
<text transform="translate(129.57,329.2) rotate(-90)" font-size="9.6" text-anchor="end">Jun</text>
<line x1="137.22" y1="321.6" x2="137.22" y2="326.6" stroke="#5a5a5a" stroke-width="1.4"/>
<text transform="translate(140.72,329.2) rotate(-90)" font-size="9.6" text-anchor="end">Jul</text>
<line x1="148.38" y1="321.6" x2="148.38" y2="326.6" stroke="#5a5a5a" stroke-width="1.4"/>
<text transform="translate(151.88,329.2) rotate(-90)" font-size="9.6" text-anchor="end">Aug</text>
<line x1="159.53" y1="321.6" x2="159.53" y2="326.6" stroke="#5a5a5a" stroke-width="1.4"/>
<text transform="translate(163.03,329.2) rotate(-90)" font-size="9.6" text-anchor="end">Sep</text>
<line x1="170.69" y1="321.6" x2="170.69" y2="326.6" stroke="#5a5a5a" stroke-width="1.4"/>
<text transform="translate(174.19,329.2) rotate(-90)" font-size="9.6" text-anchor="end">Oct</text>
<line x1="181.84" y1="321.6" x2="181.84" y2="326.6" stroke="#5a5a5a" stroke-width="1.4"/>
<text transform="translate(185.34,329.2) rotate(-90)" font-size="9.6" text-anchor="end">Nov</text>
<line x1="192.99" y1="321.6" x2="192.99" y2="326.6" stroke="#5a5a5a" stroke-width="1.4"/>
<text transform="translate(196.49,329.2) rotate(-90)" font-size="9.6" text-anchor="end">Dec</text>
<line x1="204.15" y1="321.6" x2="204.15" y2="326.6" stroke="#5a5a5a" stroke-width="1.4"/>
<text transform="translate(207.65,329.2) rotate(-90)" font-size="9.6" text-anchor="end">Jan</text>
<line x1="215.30" y1="321.6" x2="215.30" y2="326.6" stroke="#5a5a5a" stroke-width="1.4"/>
<text transform="translate(218.80,329.2) rotate(-90)" font-size="9.6" text-anchor="end">Feb</text>
<line x1="226.46" y1="321.6" x2="226.46" y2="326.6" stroke="#5a5a5a" stroke-width="1.4"/>
<text transform="translate(229.96,329.2) rotate(-90)" font-size="9.6" text-anchor="end">Mar</text>
<line x1="237.61" y1="321.6" x2="237.61" y2="326.6" stroke="#5a5a5a" stroke-width="1.4"/>
<text transform="translate(241.11,329.2) rotate(-90)" font-size="9.6" text-anchor="end">Apr</text>
<line x1="248.76" y1="321.6" x2="248.76" y2="326.6" stroke="#5a5a5a" stroke-width="1.4"/>
<text transform="translate(252.26,329.2) rotate(-90)" font-size="9.6" text-anchor="end">May</text>
<line x1="259.92" y1="321.6" x2="259.92" y2="326.6" stroke="#5a5a5a" stroke-width="1.4"/>
<text transform="translate(263.42,329.2) rotate(-90)" font-size="9.6" text-anchor="end">Jun</text>
<line x1="271.07" y1="321.6" x2="271.07" y2="326.6" stroke="#5a5a5a" stroke-width="1.4"/>
<text transform="translate(274.57,329.2) rotate(-90)" font-size="9.6" text-anchor="end">Jul</text>
<line x1="282.23" y1="321.6" x2="282.23" y2="326.6" stroke="#5a5a5a" stroke-width="1.4"/>
<text transform="translate(285.73,329.2) rotate(-90)" font-size="9.6" text-anchor="end">Aug</text>
<line x1="293.38" y1="321.6" x2="293.38" y2="326.6" stroke="#5a5a5a" stroke-width="1.4"/>
<text transform="translate(296.88,329.2) rotate(-90)" font-size="9.6" text-anchor="end">Sep</text>
<line x1="304.53" y1="321.6" x2="304.53" y2="326.6" stroke="#5a5a5a" stroke-width="1.4"/>
<text transform="translate(308.03,329.2) rotate(-90)" font-size="9.6" text-anchor="end">Oct</text>
<line x1="315.69" y1="321.6" x2="315.69" y2="326.6" stroke="#5a5a5a" stroke-width="1.4"/>
<text transform="translate(319.19,329.2) rotate(-90)" font-size="9.6" text-anchor="end">Nov</text>
<line x1="326.84" y1="321.6" x2="326.84" y2="326.6" stroke="#5a5a5a" stroke-width="1.4"/>
<text transform="translate(330.34,329.2) rotate(-90)" font-size="9.6" text-anchor="end">Dec</text>
<line x1="338.00" y1="321.6" x2="338.00" y2="326.6" stroke="#5a5a5a" stroke-width="1.4"/>
<text transform="translate(341.50,329.2) rotate(-90)" font-size="9.6" text-anchor="end">Jan</text>
<line x1="349.15" y1="321.6" x2="349.15" y2="326.6" stroke="#5a5a5a" stroke-width="1.4"/>
<text transform="translate(352.65,329.2) rotate(-90)" font-size="9.6" text-anchor="end">Feb</text>
<line x1="360.30" y1="321.6" x2="360.30" y2="326.6" stroke="#5a5a5a" stroke-width="1.4"/>
<text transform="translate(363.80,329.2) rotate(-90)" font-size="9.6" text-anchor="end">Mar</text>
<line x1="371.46" y1="321.6" x2="371.46" y2="326.6" stroke="#5a5a5a" stroke-width="1.4"/>
<text transform="translate(374.96,329.2) rotate(-90)" font-size="9.6" text-anchor="end">Apr</text>
<line x1="382.61" y1="321.6" x2="382.61" y2="326.6" stroke="#5a5a5a" stroke-width="1.4"/>
<text transform="translate(386.11,329.2) rotate(-90)" font-size="9.6" text-anchor="end">May</text>
<line x1="393.77" y1="321.6" x2="393.77" y2="326.6" stroke="#5a5a5a" stroke-width="1.4"/>
<text transform="translate(397.27,329.2) rotate(-90)" font-size="9.6" text-anchor="end">Jun</text>
<line x1="404.92" y1="321.6" x2="404.92" y2="326.6" stroke="#5a5a5a" stroke-width="1.4"/>
<text transform="translate(408.42,329.2) rotate(-90)" font-size="9.6" text-anchor="end">Jul</text>
<line x1="416.07" y1="321.6" x2="416.07" y2="326.6" stroke="#5a5a5a" stroke-width="1.4"/>
<text transform="translate(419.57,329.2) rotate(-90)" font-size="9.6" text-anchor="end">Aug</text>
<line x1="427.23" y1="321.6" x2="427.23" y2="326.6" stroke="#5a5a5a" stroke-width="1.4"/>
<text transform="translate(430.73,329.2) rotate(-90)" font-size="9.6" text-anchor="end">Sep</text>
<line x1="438.38" y1="321.6" x2="438.38" y2="326.6" stroke="#5a5a5a" stroke-width="1.4"/>
<text transform="translate(441.88,329.2) rotate(-90)" font-size="9.6" text-anchor="end">Oct</text>
<line x1="449.54" y1="321.6" x2="449.54" y2="326.6" stroke="#5a5a5a" stroke-width="1.4"/>
<text transform="translate(453.04,329.2) rotate(-90)" font-size="9.6" text-anchor="end">Nov</text>
<line x1="460.69" y1="321.6" x2="460.69" y2="326.6" stroke="#5a5a5a" stroke-width="1.4"/>
<text transform="translate(464.19,329.2) rotate(-90)" font-size="9.6" text-anchor="end">Dec</text>
<line x1="471.84" y1="321.6" x2="471.84" y2="326.6" stroke="#5a5a5a" stroke-width="1.4"/>
<text transform="translate(475.34,329.2) rotate(-90)" font-size="9.6" text-anchor="end">Jan</text>
<line x1="483.00" y1="321.6" x2="483.00" y2="326.6" stroke="#5a5a5a" stroke-width="1.4"/>
<text transform="translate(486.50,329.2) rotate(-90)" font-size="9.6" text-anchor="end">Feb</text>
<text x="102.2" y="30.8" font-size="12">2016</text>
<text x="280.6" y="33" font-size="12">2017</text>
<text x="421.8" y="30.6" font-size="12">2018</text>
<text x="466.5" y="30.6" font-size="12">2019</text>
<text transform="translate(14.2,165) rotate(-90)" font-size="14.5" text-anchor="middle">Precipitation (mm)</text>
<text transform="translate(540.8,165.3) rotate(-90)" font-size="14.7" text-anchor="middle">Air Temperature (°C)</text>
<text x="277" y="365" font-size="14" text-anchor="middle">Months</text>
<rect x="31" y="357.6" width="186.6" height="78.2" fill="#fff" stroke="#222" stroke-width="1.5"/>
<rect x="39.5" y="369.5" width="35" height="9" fill="#0000f5" stroke="#111" stroke-width="0.8"/>
<line x1="43.8" y1="389.4" x2="70.3" y2="389.4" stroke="#000" stroke-width="1.8"/>
<line x1="39" y1="404.7" x2="74" y2="404.7" stroke="#f01010" stroke-width="1.6" stroke-dasharray="1.6 3.2"/>
<line x1="39.7" y1="419.8" x2="72" y2="419.8" stroke="#55dd55" stroke-width="1.6" stroke-dasharray="8.4 3"/>
<text x="83.6" y="378.9" font-size="12" letter-spacing="0">Precipitation</text>
<text x="83.6" y="394.3" font-size="12" letter-spacing="-0.12">Average temperature</text>
<text x="83.6" y="408.9" font-size="12" letter-spacing="0">Maximum Temperature</text>
<text x="83.6" y="424.0" font-size="12" letter-spacing="0">Minimum Temperature</text>
</svg></body></html>
